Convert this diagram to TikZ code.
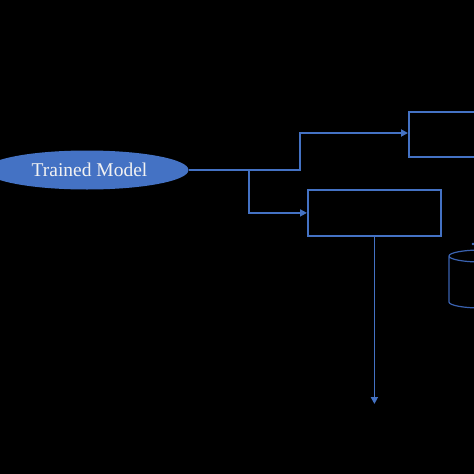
\documentclass[tikz,border=0pt]{standalone}
\usepackage{fontspec}
\setmainfont{Liberation Serif}
\usetikzlibrary{arrows.meta,shapes.geometric}
\definecolor{lineblue}{HTML}{4472C4}
\definecolor{cylblue}{HTML}{3A62B0}
\definecolor{textwhite}{HTML}{F2F2F2}
\tikzset{
  conn/.style={draw=lineblue, line width=1.8pt, -{Triangle[length=7pt,width=7pt]}},
  plainconn/.style={draw=lineblue, line width=1.8pt},
  box/.style={draw=lineblue, line width=1.8pt, rectangle, inner sep=0pt},
  model/.style={ellipse, fill=lineblue, inner sep=0pt}
}
\begin{document}
\begin{tikzpicture}[x=1pt,y=-1pt]
\fill[black] (0,0) rectangle (474,474);
\useasboundingbox (0,0) rectangle (474,474);
\begin{scope}
\clip (0,0) rectangle (474,474);
\node[model, minimum width=203pt, minimum height=39pt] (tm) at (87,170) {};
\node[text=textwhite, font=\fontsize{19.5}{21}\selectfont, inner sep=0pt] (tmtext) at (89.5,170) {Trained Model};
\node[box, minimum width=90pt, minimum height=45pt, anchor=north west] (b1) at (408,111) {};
\node[box, minimum width=133pt, minimum height=46pt, anchor=north west] (b2) at (307,189) {};
\coordinate (split) at (249,170);
\coordinate (step) at (300,170);
\coordinate (out) at (b2.south |- 0,404);
\draw[plainconn] (tm.east) -- (split);
\draw[conn] (split) -- (step) |- (b1.west |- 0,133);
\draw[conn] (split) |- (b2.west);
\draw[conn] (b2.south) -- (out);
% cylinder
\draw[draw=cylblue, line width=1.2pt]
  (449,256) -- (449,302)
  arc[start angle=180, end angle=360, x radius=32pt, y radius=6pt]
  (449,256) arc[start angle=180, end angle=-180, x radius=32pt, y radius=6pt];
\coordinate (cyltop) at (473,244);
\fill[lineblue] (cyltop) circle (1.3pt);
\end{scope}
\end{tikzpicture}
\end{document}
